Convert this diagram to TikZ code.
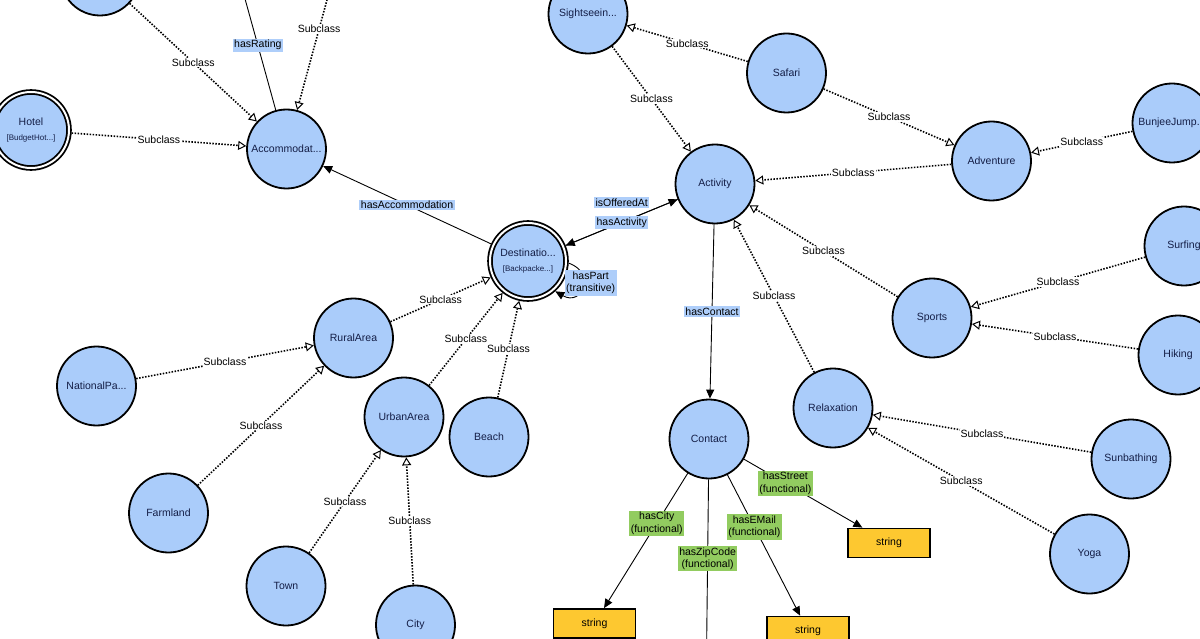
\documentclass[tikz,border=0pt]{standalone}
\usepackage{fontspec}
\setmainfont{Liberation Sans}
\usetikzlibrary{arrows.meta}
\definecolor{clsblue}{RGB}{170,204,250}
\definecolor{propblue}{RGB}{174,206,250}
\definecolor{funcgreen}{RGB}{146,204,96}
\definecolor{dtgold}{RGB}{253,200,48}
\definecolor{clstext}{RGB}{20,30,70}
\newcommand{\smalltag}[1]{{\fontsize{8}{9}\selectfont #1}}
\begin{document}
\begin{tikzpicture}[x=1pt, y=-1pt,
    font=\fontsize{10.5}{12.5}\selectfont,
    cls/.style={circle, draw, line width=1.8pt, fill=clsblue, text=clstext, minimum size=79pt, inner sep=0pt},
    dcls/.style={circle, draw, line width=1.8pt, double, double distance=2pt, fill=clsblue, text=clstext,
      minimum size=76pt, inner sep=0pt, outer sep=2.8pt, align=center},
    dtype/.style={rectangle, draw, line width=1.8pt, fill=dtgold, minimum width=82pt, minimum height=29pt},
    sub/.style={line width=1.6pt, dash pattern=on 1.5pt off 1.5pt,
      -{Triangle[open, length=8pt, width=9pt, line width=1pt]}},
    rel/.style={line width=0.9pt, -{Triangle[length=9pt, width=8pt]}},
    sublbl/.style={fill=white, inner sep=1pt},
    prop/.style={fill=propblue, inner sep=1.5pt},
    fprop/.style={fill=funcgreen, inner sep=1.5pt, align=center}]
  \useasboundingbox (0,0) rectangle (1200,639);
  \clip (0,0) rectangle (1200,639);
  \draw
    (100,-24) node[cls] (top){}
    (31,130) node[dcls] (hotel){Hotel\\[3pt]\smalltag{[BudgetHot...]}}
    (286.5,149) node[cls] (accom){Accommodat...}
    (528,261) node[dcls] (dest){Destinatio...\\[3pt]\smalltag{[Backpacke...]}}
    (588,14) node[cls] (sight){Sightseein...}
    (786.5,73) node[cls] (safari){Safari}
    (991.5,161) node[cls] (adv){Adventure}
    (1172,123) node[cls] (bunjee){BunjeeJump...}
    (715,184) node[cls] (act){Activity}
    (1184,246) node[cls] (surf){Surfing}
    (932,318) node[cls] (sports){Sports}
    (1178,355) node[cls] (hike){Hiking}
    (833,408) node[cls] (relax){Relaxation}
    (1131,459) node[cls] (sunb){Sunbathing}
    (1089.5,554) node[cls] (yoga){Yoga}
    (709,439) node[cls] (contact){Contact}
    (353.5,338) node[cls] (rural){RuralArea}
    (96.5,386) node[cls] (natp){NationalPa...}
    (404,417) node[cls] (urban){UrbanArea}
    (489,437) node[cls] (beach){Beach}
    (168.5,513) node[cls] (farm){Farmland}
    (286,586) node[cls] (town){Town}
    (415.5,625) node[cls] (city){City}
    (594.5,623.5) node[dtype] (strcity){string}
    (808,631) node[dtype] (strmail){string}
    (889,543) node[dtype] (strstreet){string};
  \path
    (226,-70) coordinate (ratingoff)
    (346,-70) coordinate (subtop)
    (706,700) coordinate (zipoff);
  % subclass links
  \begin{scope}[sub]
    \draw (hotel) to node[sublbl]{Subclass} (accom);
    \draw (top) to node[sublbl]{Subclass} (accom);
    \draw (subtop) to node[sublbl, pos=0.55]{Subclass} (accom);
    \draw (safari) to node[sublbl]{Subclass} (sight);
    \draw (sight) to node[sublbl]{Subclass} (act);
    \draw (safari) to node[sublbl]{Subclass} (adv);
    \draw (bunjee) to node[sublbl]{Subclass} (adv);
    \draw (adv) to node[sublbl]{Subclass} (act);
    \draw (sports) to node[sublbl]{Subclass} (act);
    \draw (relax) to node[sublbl]{Subclass} (act);
    \draw (surf) to node[sublbl]{Subclass} (sports);
    \draw (hike) to node[sublbl]{Subclass} (sports);
    \draw (sunb) to node[sublbl]{Subclass} (relax);
    \draw (yoga) to node[sublbl]{Subclass} (relax);
    \draw (natp) to node[sublbl]{Subclass} (rural);
    \draw (farm) to node[sublbl]{Subclass} (rural);
    \draw (rural) to node[sublbl]{Subclass} (dest);
    \draw (urban) to node[sublbl]{Subclass} (dest);
    \draw (beach) to node[sublbl]{Subclass} (dest);
    \draw (town) to node[sublbl]{Subclass} (urban);
    \draw (city) to node[sublbl]{Subclass} (urban);
  \end{scope}
  % object and data properties
  \begin{scope}[rel]
    \draw (accom) to node[prop, pos=0.36]{hasRating} (ratingoff);
    \draw (dest) to node[prop]{hasAccommodation} (accom);
    \draw (act) to node[prop, yshift=20pt]{isOfferedAt} (dest);
    \draw (dest) to node[prop]{hasActivity} (act);
    \draw (dest.-3) to[out=-20, in=-30, looseness=2.5]
      node[prop, align=center, xshift=8pt, yshift=4pt]{hasPart\\(transitive)} (dest.-48);
    \draw (act) to node[prop]{hasContact} (contact);
    \draw (contact) to node[fprop, pos=0.37]{hasCity\\(functional)} (strcity);
    \draw (contact) to node[fprop, pos=0.36]{hasZipCode\\(functional)} (zipoff);
    \draw (contact) to node[fprop, pos=0.37]{hasEMail\\(functional)} (strmail);
    \draw (contact) to node[fprop, pos=0.35]{hasStreet\\(functional)} (strstreet);
  \end{scope}
\end{tikzpicture}
\end{document}
